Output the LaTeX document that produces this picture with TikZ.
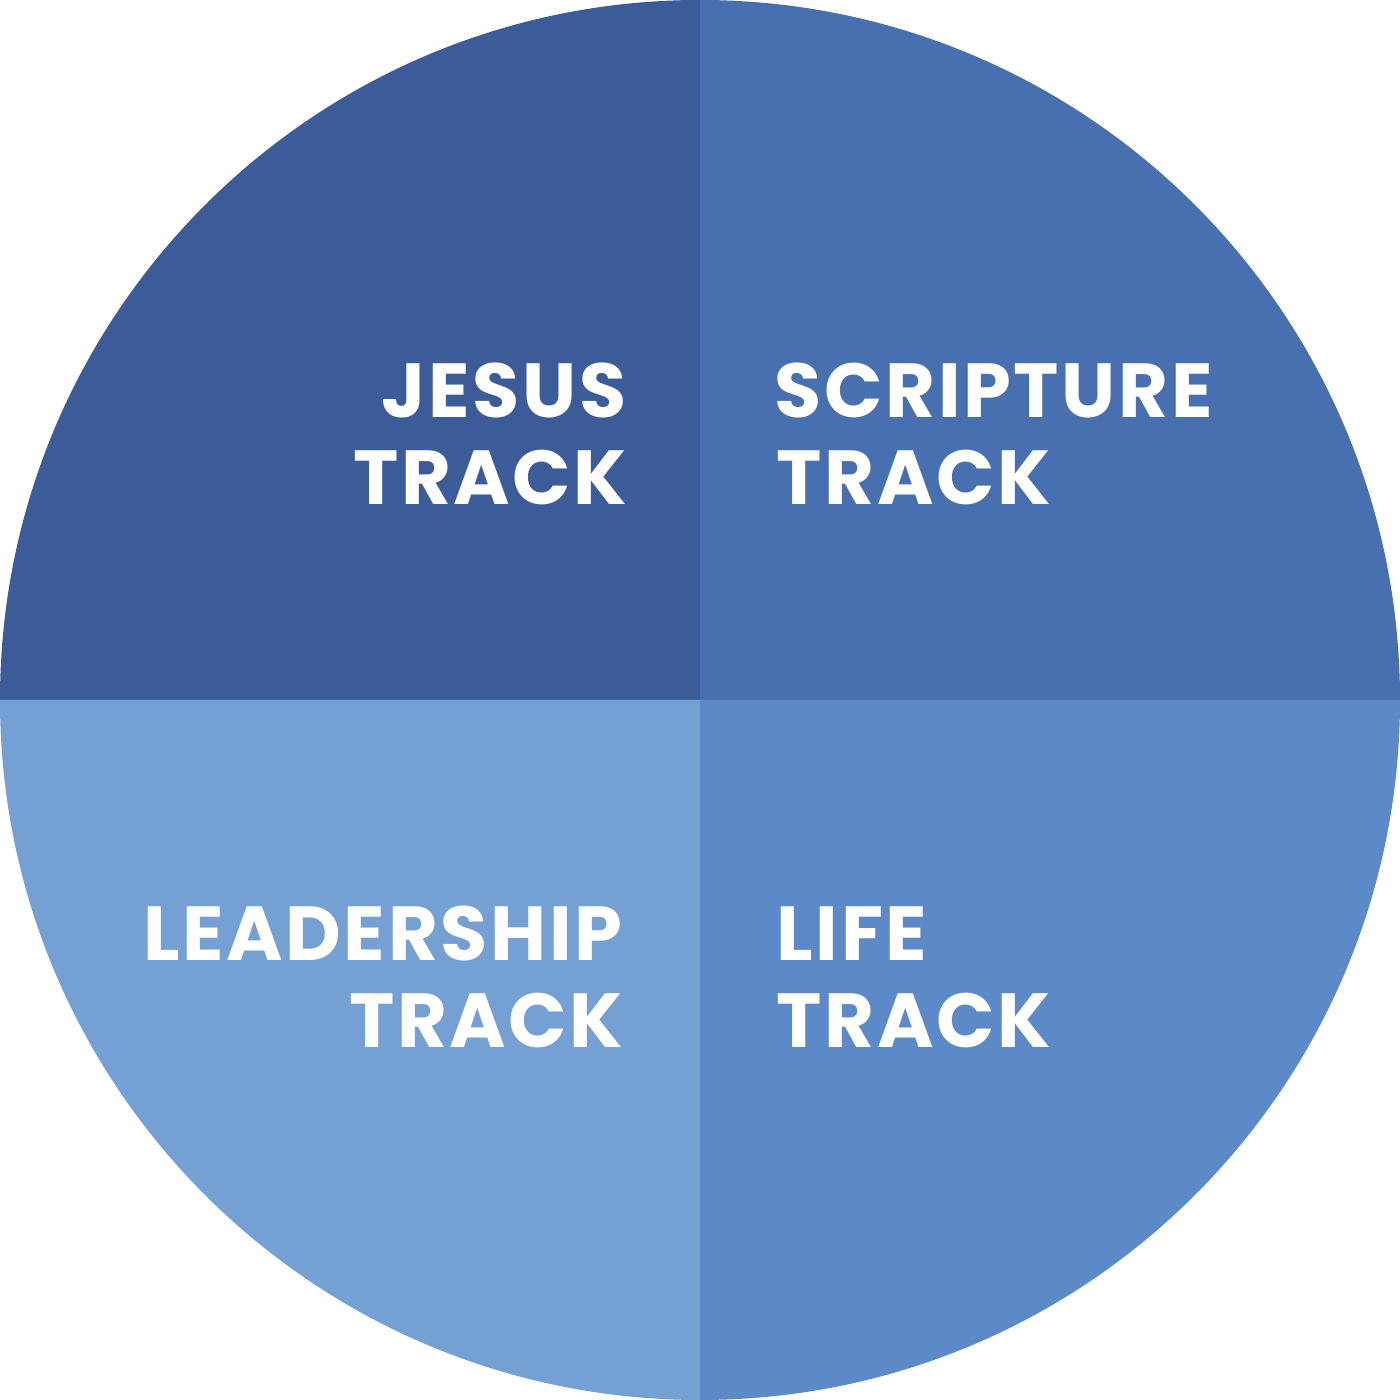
\documentclass[tikz,border=0pt]{standalone}
\usepackage{fontspec}
\setmainfont{Poppins}[BoldFont=* Bold]
\newfontfamily\lblfont{Poppins}[BoldFont=* Bold,LetterSpace=3.5]
\definecolor{qTL}{HTML}{3C5B99}
\definecolor{qTR}{HTML}{486FAF}
\definecolor{qBL}{HTML}{74A0D3}
\definecolor{qBR}{HTML}{5C89C7}
\begin{document}
\begin{tikzpicture}
\tikzset{lbl/.style={text=white,font=\lblfont\fontsize{21.8}{24}\selectfont\bfseries,inner sep=0pt}}
\useasboundingbox (0,0) rectangle (14,14);
\coordinate (c) at (7,7);
\fill[qTL] (c) -- (0,7) arc[start angle=180,end angle=90,radius=7] -- cycle;
\fill[qTR] (c) -- (7,14) arc[start angle=90,end angle=0,radius=7] -- cycle;
\fill[qBR] (c) -- (14,7) arc[start angle=0,end angle=-90,radius=7] -- cycle;
\fill[qBL] (c) -- (7,0) arc[start angle=270,end angle=180,radius=7] -- cycle;
\node[lbl,anchor=base east] (j1) at (6.27,9.82) {JESUS};
\node[lbl,anchor=base east] (j2) at (6.28,8.95) {TRACK};
\node[lbl,anchor=base west] (s1) at (7.74,9.82) {SCRIPTURE};
\node[lbl,anchor=base west] (s2) at (7.76,8.95) {TRACK};
\node[lbl,anchor=base east] (l1) at (6.23,4.39) {LEADERSHIP};
\node[lbl,anchor=base east] (l2) at (6.24,3.52) {TRACK};
\node[lbl,anchor=base west] (f1) at (7.76,4.39) {LIFE};
\node[lbl,anchor=base west] (f2) at (7.76,3.52) {TRACK};
\end{tikzpicture}
\end{document}
